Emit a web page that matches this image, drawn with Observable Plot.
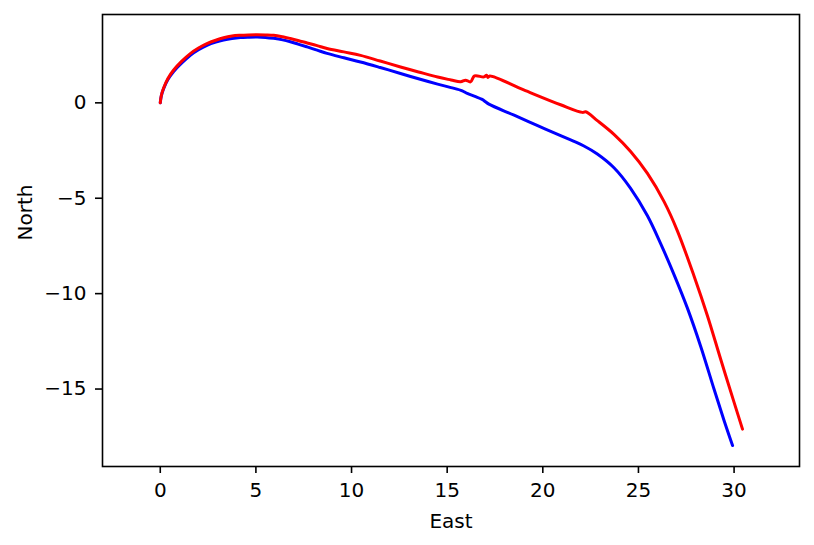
<!DOCTYPE html>
<html>
<head>
<meta charset="utf-8">
<script src="https://cdn.jsdelivr.net/npm/d3@7"></script>
<script src="https://cdn.jsdelivr.net/npm/@observablehq/plot@0.6"></script>
<style>
  html, body { margin: 0; padding: 0; background: white; }
</style>
</head>
<body>
<div id="chart"></div>
<script>
const blueEast  = [0, 0.05, 0.17, 0.40, 0.70, 1.10, 1.57, 2.00, 2.44, 2.90, 3.31, 3.75, 4.19, 4.60, 5.06, 5.50, 5.93, 6.40, 6.80, 7.20, 7.68, 8.20, 8.72, 9.60, 10.47, 11.50, 12.56, 13.50, 14.50, 15.20, 15.79, 16.05, 16.45, 16.83, 17.00, 17.18, 18.50, 19.70, 20.93, 21.60, 22.15, 22.85, 23.72, 24.59, 25.47, 26.16, 26.86, 27.56, 28.26, 28.95, 29.48, 29.92];
const blueNorth = [0, 0.34, 0.73, 1.22, 1.64, 2.06, 2.49, 2.78, 3.01, 3.18, 3.29, 3.37, 3.42, 3.44, 3.45, 3.43, 3.38, 3.30, 3.20, 3.08, 2.93, 2.76, 2.59, 2.36, 2.14, 1.85, 1.54, 1.26, 0.98, 0.80, 0.63, 0.49, 0.34, 0.18, 0.06, -0.07, -0.65, -1.18, -1.72, -2.01, -2.26, -2.68, -3.40, -4.48, -5.92, -7.38, -9.00, -10.76, -12.78, -15.00, -16.66, -17.96];

const redEast  = [0, 0.05, 0.17, 0.40, 0.70, 1.10, 1.57, 2.00, 2.44, 2.90, 3.31, 3.75, 4.19, 4.60, 5.06, 5.50, 5.93, 6.40, 6.80, 7.20, 7.68, 8.20, 8.72, 9.60, 10.47, 11.50, 12.56, 13.50, 14.50, 15.20, 15.70, 15.96, 16.22, 16.43, 16.92, 17.06, 17.13, 17.23, 19.00, 20.93, 22.07, 22.24, 22.85, 23.72, 24.59, 25.47, 26.34, 27.04, 27.91, 28.61, 29.30, 30.00, 30.44];
const redNorth = [0, 0.36, 0.76, 1.28, 1.72, 2.16, 2.58, 2.87, 3.10, 3.28, 3.41, 3.50, 3.54, 3.56, 3.57, 3.56, 3.54, 3.46, 3.37, 3.27, 3.14, 3.00, 2.85, 2.67, 2.49, 2.19, 1.88, 1.62, 1.35, 1.20, 1.10, 1.19, 1.10, 1.41, 1.36, 1.45, 1.33, 1.41, 0.68, -0.10, -0.50, -0.47, -0.93, -1.65, -2.55, -3.70, -5.18, -6.72, -9.09, -11.17, -13.44, -15.70, -17.10];

const xTicks = [0, 5, 10, 15, 20, 25, 30];
const yTicks = [0, -5, -10, -15];
const xLabel = "East";
const yLabel = "North";

const blue = blueEast.map((e, i) => ({east: e, north: blueNorth[i]}));
const red = redEast.map((e, i) => ({east: e, north: redNorth[i]}));

const FS = 20;

const chart = Plot.plot({
  width: 814,
  height: 545,
  marginLeft: 102,
  marginRight: 15,
  marginTop: 14,
  marginBottom: 79,
  style: {fontFamily: "DejaVu Sans", fontSize: FS + "px", background: "white", color: "black"},
  x: {domain: [-3.02, 33.42]},
  y: {domain: [-19.06, 4.63]},
  marks: [
    Plot.axisX({ticks: xTicks, tickSize: 7, tickPadding: 9, label: null, strokeWidth: 1.6, fontSize: FS}),
    Plot.axisY({ticks: yTicks, tickSize: 7, tickPadding: 9, label: null, strokeWidth: 1.6, fontSize: FS}),
    Plot.line(blue, {x: "east", y: "north", stroke: "blue", strokeWidth: 3, curve: "catmull-rom"}),
    Plot.line(red, {x: "east", y: "north", stroke: "red", strokeWidth: 3, curve: "catmull-rom"}),
    Plot.frame({stroke: "black", strokeWidth: 1.6}),
    Plot.text([xLabel], {frameAnchor: "bottom", dy: 55, lineAnchor: "middle", fontSize: FS, fill: "black"}),
    Plot.text([yLabel], {frameAnchor: "left", dx: -77, rotate: -90, lineAnchor: "middle", fontSize: FS, fill: "black"})
  ]
});
document.getElementById("chart").appendChild(chart);
</script>
</body>
</html>
